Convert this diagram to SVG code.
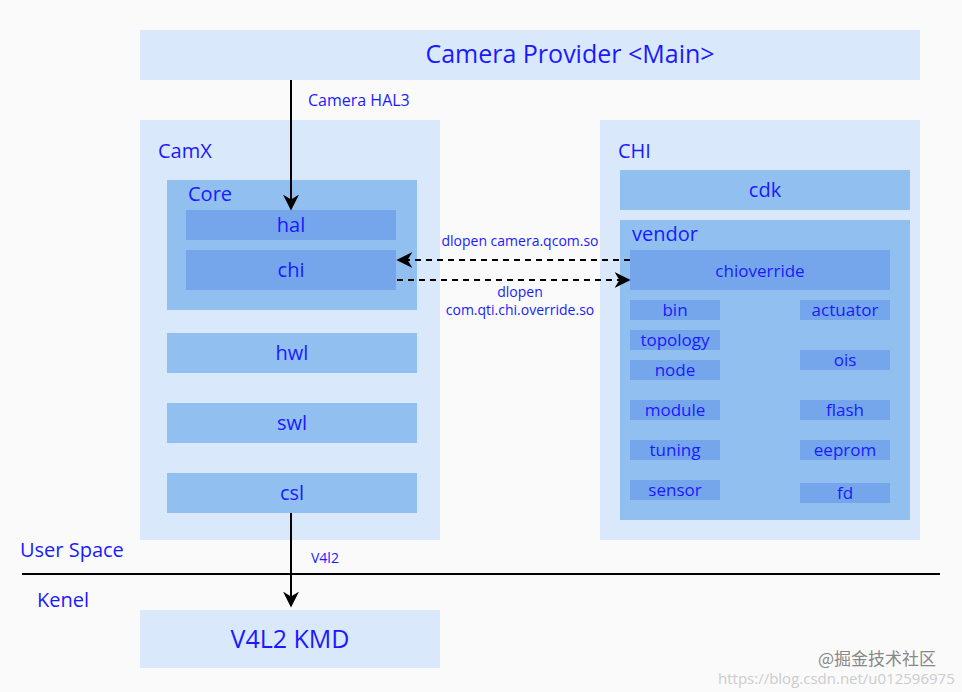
<svg xmlns="http://www.w3.org/2000/svg" width="962" height="692" viewBox="0 0 962 692">
<style>
text{font-family:"Open Sans","Liberation Sans",sans-serif;fill:#1a1aff}
.l{fill:#dae8fc}.m{fill:#90bff0}.d{fill:#75a6ec}
.c{text-anchor:middle}
.f20{font-size:20px}.f17{font-size:17px}.f14{font-size:14px}
</style>
<defs>
<marker id="a" viewBox="0 0 10 10" refX="9" refY="5" markerWidth="8" markerHeight="8" orient="auto"><path d="M0,0L10,5L0,10L3,5z" fill="#000"/></marker>
</defs>
<rect width="962" height="692" fill="#fafafa"/>
<g id="provider"><rect class="l" x="140" y="30" width="780" height="50"/><text class="c" x="570" y="63" font-size="25">Camera Provider &lt;Main&gt;</text></g>
<g id="camx"><rect class="l" x="140" y="120" width="300" height="420"/><text class="f20" x="158" y="158">CamX</text></g>
<g id="core"><rect class="m" x="167" y="180" width="250" height="130"/><text class="f20" x="188" y="201">Core</text></g>
<g id="hal"><rect class="d" x="186" y="210" width="210" height="30"/><text class="c f20" x="291" y="232">hal</text></g>
<g id="chi"><rect class="d" x="186" y="250" width="210" height="40"/><text class="c f20" x="291" y="277">chi</text></g>
<g id="hwl"><rect class="m" x="167" y="333" width="250" height="40"/><text class="c f20" x="292" y="360">hwl</text></g>
<g id="swl"><rect class="m" x="167" y="403" width="250" height="40"/><text class="c f20" x="292" y="430">swl</text></g>
<g id="csl"><rect class="m" x="167" y="473" width="250" height="40"/><text class="c f20" x="292" y="500">csl</text></g>
<g id="chibox"><rect class="l" x="600" y="120" width="320" height="420"/><text class="f20" x="618" y="158">CHI</text></g>
<g id="cdk"><rect class="m" x="620" y="170" width="290" height="40"/><text class="c f20" x="765" y="197">cdk</text></g>
<g id="vendor"><rect class="m" x="620" y="220" width="290" height="300"/><text class="f20" x="632" y="241">vendor</text></g>
<g id="chioverride"><rect class="d" x="630" y="250" width="260" height="40"/><text class="c f17" x="760" y="277">chioverride</text></g>
<g id="bin"><rect class="d" x="630" y="300" width="90" height="20"/><text class="c f17" x="675" y="316">bin</text></g>
<g id="topology"><rect class="d" x="630" y="330" width="90" height="20"/><text class="c f17" x="675" y="346">topology</text></g>
<g id="node"><rect class="d" x="630" y="360" width="90" height="20"/><text class="c f17" x="675" y="376">node</text></g>
<g id="module"><rect class="d" x="630" y="400" width="90" height="20"/><text class="c f17" x="675" y="416">module</text></g>
<g id="tuning"><rect class="d" x="630" y="440" width="90" height="20"/><text class="c f17" x="675" y="456">tuning</text></g>
<g id="sensor"><rect class="d" x="630" y="480" width="90" height="20"/><text class="c f17" x="675" y="496">sensor</text></g>
<g id="actuator"><rect class="d" x="800" y="300" width="90" height="20"/><text class="c f17" x="845" y="316">actuator</text></g>
<g id="ois"><rect class="d" x="800" y="350" width="90" height="20"/><text class="c f17" x="845" y="366">ois</text></g>
<g id="flash"><rect class="d" x="800" y="400" width="90" height="20"/><text class="c f17" x="845" y="416">flash</text></g>
<g id="eeprom"><rect class="d" x="800" y="440" width="90" height="20"/><text class="c f17" x="845" y="456">eeprom</text></g>
<g id="fd"><rect class="d" x="800" y="483" width="90" height="20"/><text class="c f17" x="845" y="499">fd</text></g>
<g id="kmd"><rect class="l" x="140" y="610" width="300" height="58"/><text class="c" x="290" y="648" font-size="25">V4L2 KMD</text></g>
<g id="connectors" stroke="#000" stroke-width="2" fill="none">
<line x1="291" y1="80" x2="291" y2="209" marker-end="url(#a)"/>
<line x1="630" y1="260" x2="398" y2="260" stroke-dasharray="6,5" marker-end="url(#a)"/>
<line x1="397" y1="280" x2="629" y2="280" stroke-dasharray="6,5" marker-end="url(#a)"/>
<line x1="291" y1="513" x2="291" y2="606" marker-end="url(#a)"/>
<line x1="22" y1="574" x2="940" y2="574"/>
</g>
<text x="308" y="106" style="font-size:16px">Camera HAL3</text>
<text class="c f14" x="520" y="246">dlopen camera.qcom.so</text>
<text class="c f14" x="520" y="297">dlopen</text>
<text class="c f14" x="520" y="315">com.qti.chi.override.so</text>
<text class="f14" x="311" y="563">V4l2</text>
<text class="f20" x="20" y="557">User Space</text>
<text class="f20" x="37" y="607">Kenel</text>
<text x="818" y="665" style="font-size:17px;fill:#888;font-family:'Noto Sans CJK SC',sans-serif">@掘金技术社区</text>
<text x="718" y="684" style="font-size:15px;fill:#ccc">https://blog.csdn.net/u012596975</text>
</svg>
